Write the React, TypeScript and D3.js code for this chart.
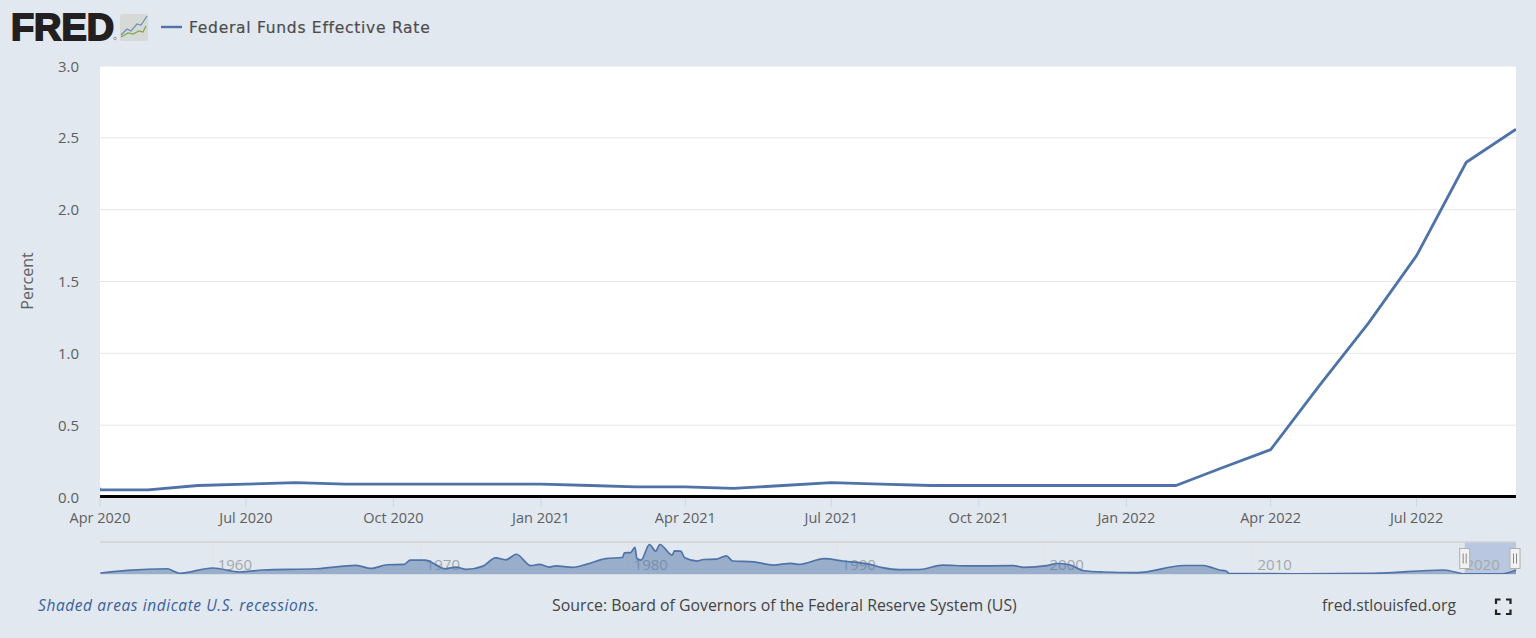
import React from "react";
import * as d3 from "d3";

const W = 1536, H = 638;
const seriesName = "Federal Funds Effective Rate";
const yTicks = [0, 0.5, 1, 1.5, 2, 2.5, 3];
const months = ["2020-03","2020-04","2020-05","2020-06","2020-07","2020-08","2020-09","2020-10","2020-11","2020-12","2021-01","2021-02","2021-03","2021-04","2021-05","2021-06","2021-07","2021-08","2021-09","2021-10","2021-11","2021-12","2022-01","2022-02","2022-03","2022-04","2022-05","2022-06","2022-07","2022-08","2022-09"];
const rates = [0.65,0.05,0.05,0.08,0.09,0.10,0.09,0.09,0.09,0.09,0.09,0.08,0.07,0.07,0.06,0.08,0.10,0.09,0.08,0.08,0.08,0.08,0.08,0.08,0.20,0.33,0.77,1.21,1.68,2.33,2.56];
const xTickDates = ["2020-04","2020-07","2020-10","2021-01","2021-04","2021-07","2021-10","2022-01","2022-04","2022-07"];
const xTickLabels = ["Apr 2020","Jul 2020","Oct 2020","Jan 2021","Apr 2021","Jul 2021","Oct 2021","Jan 2022","Apr 2022","Jul 2022"];
const navYears = [1954.6,1955.9,1957.8,1958.4,1960.0,1961.3,1962.4,1965.0,1966.9,1967.6,1968.4,1969.2,1969.5,1970.2,1971.2,1971.7,1972.2,1973.0,1973.6,1974.1,1974.6,1975.3,1975.7,1976.2,1976.5,1977.3,1978.0,1978.9,1979.7,1979.8,1980.1,1980.3,1980.4,1980.6,1981.0,1981.3,1981.5,1982.1,1982.2,1982.5,1982.7,1983.3,1983.6,1984.2,1984.7,1985.0,1986.0,1986.95,1987.8,1988.2,1989.4,1990.3,1991.6,1992.2,1993.0,1994.0,1995.1,1996.25,1998.5,1999.0,2000.1,2000.6,2001.2,2001.9,2002.8,2004.45,2006.7,2007.65,2008.1,2008.4,2008.7,2008.9,2012,2015.8,2019.2,2020.25,2022.0,2022.67];
const navValues = [0.65,2.4,3.4,0.5,3.9,1.3,2.6,3.4,5.6,3.6,6.0,6.2,9.0,9.0,3.4,4.5,3.0,5.1,10.5,9.2,12.8,5.4,6.2,4.5,5.3,4.3,6.4,10.0,10.7,13.7,13.9,17.3,10,9.0,19.1,14.8,19.1,12.2,15,14.8,10.5,8.4,9.4,9.6,11.8,8.4,7.9,5.8,6.9,6.2,9.9,8.4,6.2,4.1,2.8,2.9,5.8,5.2,5.4,4.3,5.4,6.8,6.0,2.1,1.3,0.9,5.5,5.5,3.9,2.6,2.1,0.3,0.15,0.4,2.6,0.05,0.1,2.56];
const navDecades = [1960,1970,1980,1990,2000,2010,2020];

const FONT = "'Open Sans', sans-serif";
const parse = d3.timeParse("%Y-%m");
const L = 100, R = 1516, T = 66, B = 497;

export default function App() {
  const x = d3.scaleTime().domain([parse("2020-04")!, parse("2022-09")!]).range([L, R]);
  const y = d3.scaleLinear().domain([0, 3]).range([B, T]);
  const line = d3.line<number>().x((_, i) => x(parse(months[i])!)).y((d) => y(d));

  const nx = d3.scaleLinear().domain([1954.58, 2022.67]).range([L, R]);
  const ny = d3.scaleLinear().domain([0, 19.1]).range([574, 544.5]);
  const navLine = d3.line<number>().x((_, i) => nx(navYears[i])).y((d) => ny(d)).curve(d3.curveMonotoneX);
  const navArea = d3.area<number>().x((_, i) => nx(navYears[i])).y0(574).y1((d) => ny(d)).curve(d3.curveMonotoneX);
  const selStart = nx(2020.25) - 1;

  return (
    <svg width={W} height={H} viewBox={`0 0 ${W} ${H}`} style={{ position: "absolute", left: 0, top: 0, background: "#e1e8ef", fontFamily: FONT }}>
      <defs>
        <clipPath id="plot"><rect x={L} y={T} width={R - L} height={B - T} /></clipPath>
      </defs>

      {/* logo */}
      <text x={11} y={40} fontFamily="'Liberation Sans', sans-serif" fontWeight={700} fontSize={36} fill="#231f20" stroke="#231f20" strokeWidth={1.8} textLength={103} lengthAdjust="spacingAndGlyphs">FRED</text>
      <circle cx={115} cy={38.5} r={1.3} fill="none" stroke="#555" strokeWidth={0.5} />
      <rect x={120} y={14} width={28} height={27} rx={2} fill="#d6dad7" />
      <path d="M121 35 L127 29 L131 31 L137 24 L141 25 L147 16" fill="none" stroke="#6c8db5" strokeWidth={1.2} />
      <path d="M121 37 L128 33 L133 34 L139 31 L143 32 L146 26" fill="none" stroke="#7fa650" strokeWidth={1.2} />

      {/* legend */}
      <line x1={161} x2={182} y1={27} y2={27} stroke="#4f73a8" strokeWidth={2.4} />
      <text x={189} y={33} fontFamily="'DejaVu Sans', sans-serif" fontSize={15.5} letterSpacing={0.73} fontWeight={500} fill="#4d4d4d" stroke="#4d4d4d" strokeWidth={0.2}>{seriesName}</text>

      {/* plot */}
      <rect x={L} y={T} width={R - L} height={B - T} fill="#fff" />
      {yTicks.slice(1).map((t) => (
        <line key={t} x1={L} x2={R} y1={y(t)} y2={y(t)} stroke="#e6e6e6" strokeWidth={1} />
      ))}
      {yTicks.map((t) => (
        <text key={t} x={79} y={y(t) + 5.5} textAnchor="end" fontSize={15} fill="#5f5f5f">{t.toFixed(1)}</text>
      ))}
      <text transform="translate(33,281) rotate(-90)" textAnchor="middle" fontSize={16} fill="#5f5f5f">Percent</text>

      {xTickDates.map((d, i) => {
        const px = x(parse(d)!);
        return (
          <g key={d}>
            <line x1={px} x2={px} y1={B} y2={B + 10} stroke="#ccd6eb" strokeWidth={1} />
            <text x={px} y={523} textAnchor="middle" fontSize={14.5} fill="#5f5f5f">{xTickLabels[i]}</text>
          </g>
        );
      })}
      <path d={line(rates)!} clipPath="url(#plot)" fill="none" stroke="#4f73a8" strokeWidth={2.8} strokeLinejoin="round" />
      <line x1={L} x2={R} y1={B - 0.5} y2={B - 0.5} stroke="#000" strokeWidth={3} />

      {/* navigator */}
      <rect x={selStart} y={542} width={R - selStart} height={33} fill="#b9c8e0" />
      {navDecades.map((d) => (
        <g key={d}>
          <line x1={nx(d)} x2={nx(d)} y1={543} y2={574} stroke="#dfe4e4" strokeWidth={1} />
          <text x={nx(d) + 5} y={569.5} fontSize={15} fill="#a3a8ab">{d}</text>
        </g>
      ))}
      <path d={navArea(navValues)!} fill="#4f73a8" fillOpacity={0.5} />
      <path d={navLine(navValues)!} fill="none" stroke="#4f73a8" strokeWidth={1.7} />
      <line x1={L} x2={R} y1={542} y2={542} stroke="#cfd3d6" strokeWidth={1.3} />
      <line x1={L} x2={R} y1={574.5} y2={574.5} stroke="#d5dbe2" strokeWidth={1} />
      {[selStart, R - 1].map((hx) => (
        <g key={hx} transform={`translate(${hx},548.5)`}>
          <rect x={-5} y={0} width={10} height={20} fill="#f2f2f2" stroke="#b0b0b0" strokeWidth={1} />
          <path d="M-1.5 5V15M1.5 5V15" stroke="#888" strokeWidth={1} />
        </g>
      ))}

      {/* footer */}
      <text x={38} y={611} fontStyle="italic" fontSize={15.5} textLength={281} lengthAdjust="spacing" fill="#3a5f9c">Shaded areas indicate U.S. recessions.</text>
      <text x={552} y={611} fontSize={15.85} fill="#444">Source: Board of Governors of the Federal Reserve System (US)</text>
      <text x={1322} y={611} fontSize={15.7} fill="#444">fred.stlouisfed.org</text>
      <path d="M1496 604V599.5H1500.5M1506 599.5H1510.5V604M1510.5 609.5V614H1506M1500.5 614H1496V609.5" fill="none" stroke="#222" strokeWidth={2.2} />
    </svg>
  );
}
